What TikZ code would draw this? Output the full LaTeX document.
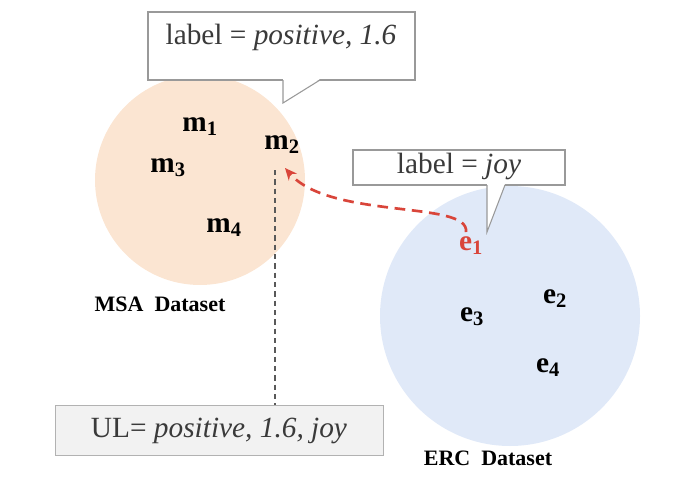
\documentclass[tikz,border=0pt]{standalone}
\usepackage{fontspec}
\setmainfont{Liberation Serif}
\usetikzlibrary{arrows.meta}
\definecolor{peach}{HTML}{FBE5D2}
\definecolor{lblue}{HTML}{E0E9F8}
\definecolor{redd}{HTML}{D9453A}
\definecolor{txt}{HTML}{3A3A3A}
\begin{document}
\begin{tikzpicture}[x=0.75pt,y=-0.75pt,
  pt/.style={font=\fontsize{22}{25}\selectfont\bfseries},
  ds/.style={font=\fontsize{16.5}{19}\selectfont\bfseries},
  call/.style={draw=gray!80,line width=0.8pt,fill=white},
  lab/.style={font=\fontsize{22}{26}\selectfont,text=txt}]
\useasboundingbox (0,0) rectangle (682,500);
\fill[peach] (200,180) circle (105);
\fill[lblue] (510,316) circle (130);
% callout 1
\draw[call] (148,12) rectangle (415,80);
\node[lab] (t1) at (281,37) {label = \textit{positive, 1.6}};
\coordinate (p1) at (283,103);
\fill[white] (283,79) -- (p1) -- (320,79) -- cycle;
\draw[gray!80,line width=0.8pt] (283,80) -- (p1) -- (320,80);
% callout 2
\draw[call] (353,150) rectangle (565,185);
\node[lab] (t2) at (459,166) {label = \textit{joy}};
\coordinate (p2) at (487,232);
\fill[white] (487,184) -- (p2) -- (505,184) -- cycle;
\draw[gray!80,line width=0.8pt] (487,185) -- (p2) -- (505,185);
% points
\node[pt] (m1) at (200,127) {m\textsubscript{1}};
\node[pt] (m2) at (282,145) {m\textsubscript{2}};
\node[pt] (m3) at (168,168) {m\textsubscript{3}};
\node[pt] (m4) at (224,228) {m\textsubscript{4}};
\node[pt,text=redd] (e1) at (471,246) {e\textsubscript{1}};
\node[pt] (e2) at (555,299) {e\textsubscript{2}};
\node[pt] (e3) at (472,317) {e\textsubscript{3}};
\node[pt] (e4) at (548,368) {e\textsubscript{4}};
\node[ds] (msa) at (160,304) {MSA\ \ Dataset};
\node[ds] (erc) at (488,458) {ERC\ \ Dataset};
% UL box
\draw[draw=gray!60,fill=gray!10] (55,405) rectangle (383,455);
\node[lab] (ult) at (219,431) {UL= \textit{positive, 1.6, joy}};
\coordinate (v1) at (275,170);
\draw[gray!70!black,dash pattern=on 4pt off 3pt,line width=1pt] (v1) -- (275,405);
\coordinate (a1) at (285,168);
\draw[redd,dash pattern=on 8pt off 5pt,line width=2pt,-{Stealth[length=9pt,width=8pt]}] (466,232) .. controls (470,200) and (330,220) .. (a1);
\end{tikzpicture}
\end{document}
